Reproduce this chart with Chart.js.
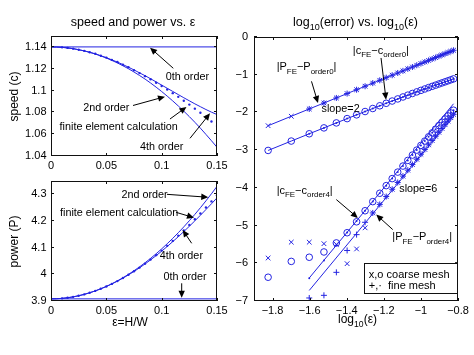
<!DOCTYPE html>
<html><head><meta charset="utf-8">
<script src="https://cdn.jsdelivr.net/npm/chart.js@4.4.1/dist/chart.umd.min.js"></script>
<style>
html,body{margin:0;padding:0;background:#fff;}
#wrap{position:relative;width:474px;height:355px;background:#fff;}
#wrap canvas{position:absolute;left:0;top:0;}
</style></head>
<body><div id="wrap">
<canvas id="cA" width="474" height="355"></canvas>
<canvas id="cB" width="474" height="355"></canvas>
<canvas id="cC" width="474" height="355"></canvas>
</div>
<script>
// ---------- data: speed / power vs epsilon ----------
const epsGrid = [0,0.005,0.01,0.015,0.02,0.025,0.03,0.035,0.04,0.045,0.05,0.055,0.06,0.065,0.07,0.075,0.08,0.085,0.09,0.095,0.1,0.105,0.11,0.115,0.12,0.125,0.13,0.135,0.14,0.145,0.15];
const order0Eps = [0, 0.15];
const feEps = [0.01,0.015,0.02,0.025,0.03,0.035,0.04,0.045,0.05,0.055,0.06,0.065,0.07,0.075,0.08,0.085,0.09,0.095,0.1,0.105,0.11,0.115,0.12,0.125,0.13,0.135,0.14,0.145,0.15];

const speedOrder0 = [1.14, 1.14];
const speedOrder2 = [1.14,1.1399,1.1396,1.1391,1.1384,1.1374,1.1363,1.1350,1.1335,1.1317,1.1298,1.1276,1.1253,1.1227,1.1200,1.1170,1.1138,1.1105,1.1069,1.1031,1.0991,1.0949,1.0905,1.0859,1.0811,1.0761,1.0709,1.0655,1.0598,1.0540,1.0480];
const speedOrder4 = [1.14,1.1399,1.1396,1.1391,1.1384,1.1374,1.1364,1.1351,1.1337,1.1319,1.1302,1.1281,1.1261,1.1238,1.1214,1.1189,1.1162,1.1136,1.1108,1.1079,1.1050,1.1021,1.0992,1.0963,1.0934,1.0906,1.0878,1.0852,1.0826,1.0802,1.0780];
const speedFE = [1.1396,1.1391,1.1384,1.1374,1.1364,1.1351,1.1337,1.1319,1.1302,1.1281,1.1261,1.1237,1.1213,1.1187,1.1160,1.1132,1.1103,1.1072,1.1041,1.1009,1.0976,1.0942,1.0906,1.0871,1.0834,1.0796,1.0757,1.0716,1.0675];

const powerOrder0 = [3.908, 3.908];
const powerOrder2 = [3.908,3.9085,3.9099,3.9122,3.9155,3.9197,3.9249,3.9310,3.9380,3.9460,3.9549,3.9647,3.9755,3.9872,3.9999,4.0135,4.0280,4.0435,4.0599,4.0772,4.0955,4.1147,4.1349,4.1560,4.1780,4.2010,4.2249,4.2497,4.2755,4.3022,4.3299];
const powerOrder4 = [3.908,3.9085,3.9099,3.9122,3.9155,3.9197,3.9248,3.9309,3.9378,3.9456,3.9544,3.9639,3.9744,3.9857,3.9979,4.0108,4.0245,4.0391,4.0543,4.0703,4.0870,4.1044,4.1225,4.1411,4.1604,4.1803,4.2006,4.2215,4.2429,4.2646,4.2869];
const powerFE = [3.9099,3.9122,3.9155,3.9197,3.9248,3.9309,3.9378,3.9457,3.9545,3.9641,3.9747,3.9860,3.9983,4.0114,4.0253,4.0401,4.0556,4.0719,4.0890,4.1068,4.1254,4.1446,4.1645,4.1851,4.2063,4.2281,4.2505,4.2735,4.2970];

// ---------- data: log10(error) vs log10(eps) ----------
const logEpsCoarse = [-1.8239,-1.6990,-1.6021,-1.5229,-1.4559,-1.3979,-1.3468,-1.3010,-1.2596,-1.2218,-1.1871,-1.1549,-1.1249,-1.0969,-1.0706,-1.0458,-1.0223,-1.0000,-0.9788,-0.9586,-0.9393,-0.9208,-0.9031,-0.8861,-0.8697,-0.8539,-0.8386,-0.8239];
const logEpsFine = [-1.6021,-1.5229,-1.4559,-1.3979,-1.3468,-1.3010,-1.2596,-1.2218,-1.1871,-1.1549,-1.1249,-1.0969,-1.0706,-1.0458,-1.0223,-1.0000,-0.9788,-0.9586,-0.9393,-0.9208,-0.9031,-0.8861,-0.8697,-0.8539,-0.8386,-0.8239];

const pErrOrder0Coarse = [-2.352,-2.102,-1.908,-1.750,-1.616,-1.500,-1.398,-1.306,-1.223,-1.148,-1.078,-1.014,-0.954,-0.898,-0.845,-0.796,-0.749,-0.704,-0.662,-0.621,-0.583,-0.546,-0.510,-0.476,-0.443,-0.412,-0.381,-0.352];
const pErrOrder0Fine = [-1.908,-1.750,-1.616,-1.500,-1.398,-1.306,-1.223,-1.148,-1.078,-1.014,-0.954,-0.898,-0.845,-0.796,-0.749,-0.704,-0.662,-0.621,-0.583,-0.546,-0.510,-0.476,-0.443,-0.412,-0.381,-0.352];
const cErrOrder0Coarse = [-3.008,-2.759,-2.566,-2.410,-2.278,-2.164,-2.064,-1.976,-1.896,-1.824,-1.758,-1.698,-1.642,-1.590,-1.542,-1.497,-1.455,-1.415,-1.378,-1.342,-1.309,-1.277,-1.246,-1.217,-1.189,-1.162,-1.135,-1.110];
const cErrOrder0Fine = [-2.566,-2.410,-2.278,-2.164,-2.064,-1.976,-1.896,-1.824,-1.758,-1.698,-1.642,-1.590,-1.542,-1.497,-1.455,-1.415,-1.378,-1.342,-1.309,-1.277,-1.246,-1.217,-1.189,-1.162,-1.135,-1.110];

const cErrOrder4Coarse = [-6.37,-5.95,-5.84,-5.70,-5.46,-5.19,-4.90,-4.607,-4.365,-4.143,-3.941,-3.755,-3.582,-3.422,-3.272,-3.131,-2.999,-2.875,-2.759,-2.647,-2.542,-2.443,-2.349,-2.259,-2.174,-2.093,-2.015,-1.941];
const cErrOrder4Fine = [-6.396,-5.924,-5.525,-5.181,-4.878,-4.607,-4.365,-4.143,-3.941,-3.755,-3.582,-3.422,-3.272,-3.131,-2.999,-2.875,-2.759,-2.647,-2.542,-2.443,-2.349,-2.259,-2.174,-2.093,-2.015,-1.941];
const pErrOrder4Coarse = [-5.86,-5.44,-5.44,-5.48,-5.50,-6.01,-5.62,-5.06,-4.665,-4.438,-4.230,-4.037,-3.857,-3.689,-3.531,-3.382,-3.241,-3.107,-2.981,-2.859,-2.743,-2.632,-2.526,-2.424,-2.326,-2.231,-2.139,-2.051];
const pErrOrder4Fine = [-6.92,-6.85,-6.24,-5.66,-5.24,-4.913,-4.665,-4.438,-4.230,-4.037,-3.857,-3.689,-3.531,-3.382,-3.241,-3.107,-2.981,-2.859,-2.743,-2.632,-2.526,-2.424,-2.326,-2.231,-2.139,-2.051];

const slope6Eps = [-1.6021, -0.8239];
const slope6Upper = [-6.39, -1.77];
const slope6Lower = [-6.72, -2.10];

// ---------- ticks ----------
const epsTicks = [0, 0.05, 0.1, 0.15];
const epsTickLabels = ['0', '0.05', '0.1', '0.15'];
const speedTicks = [1.04, 1.06, 1.08, 1.1, 1.12, 1.14];
const speedTickLabels = ['1.04', '1.06', '1.08', '1.1', '1.12', '1.14'];
const powerTicks = [3.9, 4, 4.1, 4.2, 4.3];
const powerTickLabels = ['3.9', '4', '4.1', '4.2', '4.3'];
const logEpsTicks = [-1.8, -1.6, -1.4, -1.2, -1, -0.8];
const logEpsTickLabels = ['\u22121.8', '\u22121.6', '\u22121.4', '\u22121.2', '\u22121', '\u22120.8'];
const logErrTicks = [-7, -6, -5, -4, -3, -2, -1, 0];
const logErrTickLabels = ['\u22127', '\u22126', '\u22125', '\u22124', '\u22123', '\u22122', '\u22121', '0'];

// ---------- styling / helpers ----------
const BLUE = 'rgb(35,35,225)';
const FONT = '"Liberation Sans", Arial, Helvetica, sans-serif';
Chart.defaults.font.family = FONT;
Chart.defaults.color = '#000';

function pts(xs, ys) { return xs.map((x, i) => ({x: x, y: ys[i]})); }
function lineDs(xs, ys) {
  return {data: pts(xs, ys), showLine: true, borderColor: BLUE, backgroundColor: BLUE,
          borderWidth: 1, pointRadius: 0, fill: false};
}
function markDs(xs, ys, style, r, filled) {
  return {data: pts(xs, ys), showLine: false, pointStyle: style, pointRadius: r,
          borderColor: BLUE, backgroundColor: filled ? BLUE : 'rgba(0,0,0,0)',
          pointBorderWidth: filled ? 0 : 1, borderWidth: filled ? 0 : 1};
}
function axis(min, max, ticks, labels, fixed, pad, horizontal) {
  return {
    type: 'linear', min: min, max: max,
    grid: {display: false, drawTicks: false},
    border: {display: false},
    ticks: {autoSkip: false, maxRotation: 0, minRotation: 0, padding: pad, color: '#000',
            font: {size: 11, family: FONT}, callback: (v, i) => labels[i]},
    afterBuildTicks: s => { s.ticks = ticks.map(v => ({value: v})); },
    afterFit: s => { if (horizontal) s.height = fixed; else s.width = fixed; }
  };
}

function fontStr(size) { return size + 'px ' + FONT; }
function drawRich(ctx, segs, x, y, size, align) {
  const sub = size * 0.72;
  const widths = segs.map(s => { ctx.font = fontStr(s[1] ? sub : size); return ctx.measureText(s[0]).width; });
  const total = widths.reduce((a, b) => a + b, 0);
  let cx = align === 'center' ? x - total / 2 : (align === 'right' ? x - total : x);
  ctx.textAlign = 'left'; ctx.textBaseline = 'alphabetic';
  const base = y + size * 0.36;
  segs.forEach((s, i) => {
    ctx.font = fontStr(s[1] ? sub : size);
    ctx.fillText(s[0], cx, base + (s[1] ? size * 0.32 : 0));
    cx += widths[i];
  });
}
function drawArrow(ctx, x1, y1, x2, y2) {
  const a = Math.atan2(y2 - y1, x2 - x1), L = 7, W = 3.2;
  const c = Math.cos(a), s = Math.sin(a);
  ctx.beginPath(); ctx.moveTo(x1, y1); ctx.lineTo(x2 - c * L * 0.7, y2 - s * L * 0.7); ctx.stroke();
  ctx.beginPath(); ctx.moveTo(x2, y2);
  ctx.lineTo(x2 - L * c + W * s, y2 - L * s - W * c);
  ctx.lineTo(x2 - L * c - W * s, y2 - L * s + W * c);
  ctx.closePath(); ctx.fill();
}

// ---------- decorations (text, arrows, box) ----------
const decorations = {
  cA: {
    texts: [
      {seg: [['speed and power vs. \u03b5']], px: [133, 21.7], size: 12.5, align: 'center'},
      {seg: [['speed (c)']], px: [13.3, 96.5], size: 12, rot: true},
      {seg: [['0th order']], at: [0.1233, 1.1133], size: 10.8, align: 'center'},
      {seg: [['2nd order']], at: [0.0500, 1.0846], size: 10.8, align: 'center'},
      {seg: [['finite element calculation']], at: [0.0612, 1.0675], size: 10.8, align: 'center'},
      {seg: [['4th order']], at: [0.1000, 1.0492], size: 10.8, align: 'center'}
    ],
    arrows: [
      {from: [0.1105, 1.1204], to: [0.0895, 1.1393]},
      {from: [0.0741, 1.0863], to: [0.1030, 1.0944]},
      {from: [0.1075, 1.0739], to: [0.1224, 1.0849]},
      {from: [0.1256, 1.0562], to: [0.1437, 1.0791]}
    ]
  },
  cB: {
    texts: [
      {seg: [['power (P)']], px: [14, 241.5], size: 12, rot: true},
      {seg: [['\u03b5=H/W']], px: [130, 321.7], size: 12, align: 'center'},
      {seg: [['2nd order']], at: [0.0845, 4.300], size: 10.8, align: 'center'},
      {seg: [['finite element calculation']], at: [0.0616, 4.2326], size: 10.8, align: 'center'},
      {seg: [['4th order']], at: [0.1178, 4.0725], size: 10.8, align: 'center'},
      {seg: [['0th order']], at: [0.1211, 3.994], size: 10.8, align: 'center'}
    ],
    arrows: [
      {from: [0.1048, 4.300], to: [0.1421, 4.289]},
      {from: [0.1130, 4.2326], to: [0.1292, 4.2124]},
      {from: [0.1271, 4.1164], to: [0.1190, 4.1663]},
      {from: [0.1181, 3.9664], to: [0.1181, 3.9124]}
    ]
  },
  cC: {
    texts: [
      {seg: [['log'], ['10', 1], ['(error) vs. log'], ['10', 1], ['(\u03b5)']], px: [355.5, 21.7], size: 12.5, align: 'center'},
      {seg: [['log'], ['10', 1], ['(\u03b5)']], px: [357.5, 318.5], size: 12, align: 'center'},
      {seg: [['|P'], ['FE', 1], ['\u2212P'], ['order0', 1], ['|']], at: [-1.778, -0.779], size: 11, align: 'left'},
      {seg: [['|c'], ['FE', 1], ['\u2212c'], ['order0', 1], ['|']], at: [-1.367, -0.336], size: 11, align: 'left'},
      {seg: [['slope=2']], at: [-1.433, -1.881], size: 10.8, align: 'center'},
      {seg: [['|c'], ['FE', 1], ['\u2212c'], ['order4', 1], ['|']], at: [-1.778, -4.046], size: 11, align: 'left'},
      {seg: [['slope=6']], at: [-1.014, -4.001], size: 10.8, align: 'center'},
      {seg: [['|P'], ['FE', 1], ['\u2212P'], ['order4', 1], ['|']], at: [-1.154, -5.283], size: 11, align: 'left'}
    ],
    arrows: [
      {from: [-1.590, -1.176], to: [-1.555, -1.749]},
      {from: [-1.215, -0.556], to: [-1.188, -1.661]},
      {from: [-1.456, -4.311], to: [-1.340, -4.796]},
      {from: [-1.152, -5.106], to: [-1.241, -4.709]}
    ],
    legend: {
      box: [-1.308, -5.988, -0.807, -6.783],
      lines: [
        {seg: [['x,o coarse mesh']], at: [-1.281, -6.272]},
        {seg: [['+,\u00b7  fine mesh']], at: [-1.281, -6.582]}
      ]
    }
  }
};

const decoPlugin = {
  id: 'deco',
  afterDraw(chart) {
    const d = decorations[chart.canvas.id];
    const ctx = chart.ctx, a = chart.chartArea;
    const xs = chart.scales.x, ys = chart.scales.y;
    const P = v => [xs.getPixelForValue(v[0]), ys.getPixelForValue(v[1])];
    ctx.save();
    ctx.strokeStyle = '#111'; ctx.fillStyle = '#000'; ctx.lineWidth = 1;
    // inward tick marks on all four sides
    ctx.beginPath();
    ys.ticks.forEach(t => {
      const y = Math.round(ys.getPixelForValue(t.value)) - 0.5;
      ctx.moveTo(a.left, y); ctx.lineTo(a.left + 3, y);
      ctx.moveTo(a.right, y); ctx.lineTo(a.right - 3, y);
    });
    xs.ticks.forEach(t => {
      const x = Math.round(xs.getPixelForValue(t.value)) + 0.5;
      ctx.moveTo(x, a.bottom); ctx.lineTo(x, a.bottom - 3);
      ctx.moveTo(x, a.top); ctx.lineTo(x, a.top + 3);
    });
    ctx.stroke();
    // axes box
    ctx.strokeRect(Math.round(a.left) + 0.5, Math.round(a.top) + 0.5,
                   Math.round(a.right - a.left) - 1, Math.round(a.bottom - a.top) - 1);
    // legend box
    if (d.legend) {
      const p1 = P([d.legend.box[0], d.legend.box[1]]), p2 = P([d.legend.box[2], d.legend.box[3]]);
      ctx.fillStyle = '#fff';
      ctx.fillRect(p1[0], p1[1], p2[0] - p1[0], p2[1] - p1[1]);
      ctx.strokeRect(Math.round(p1[0]) + 0.5, Math.round(p1[1]) + 0.5, Math.round(p2[0] - p1[0]), Math.round(p2[1] - p1[1]));
      ctx.fillStyle = '#000';
      d.legend.lines.forEach(l => { const p = P(l.at); drawRich(ctx, l.seg, p[0], p[1], 11, 'left'); });
    }
    // arrows
    ctx.strokeStyle = '#000'; ctx.fillStyle = '#000';
    d.arrows.forEach(ar => { const p = P(ar.from), q = P(ar.to); drawArrow(ctx, p[0], p[1], q[0], q[1]); });
    // texts
    d.texts.forEach(t => {
      const p = t.px ? t.px : P(t.at);
      if (t.rot) {
        ctx.save(); ctx.translate(p[0], p[1]); ctx.rotate(-Math.PI / 2);
        drawRich(ctx, t.seg, 0, 0, t.size, 'center'); ctx.restore();
      } else {
        drawRich(ctx, t.seg, p[0], p[1], t.size, t.align || 'center');
      }
    });
    ctx.restore();
  }
};

function makeChart(id, datasets, xScale, yScale, padding) {
  return new Chart(document.getElementById(id), {
    type: 'scatter',
    data: {datasets: datasets},
    options: {
      responsive: false, animation: false, devicePixelRatio: 1, events: [],
      layout: {padding: padding},
      plugins: {legend: {display: false}, tooltip: {enabled: false}, title: {display: false}},
      scales: {x: xScale, y: yScale}
    },
    plugins: [decoPlugin]
  });
}

// speed chart: plot area 51..217 x 36..156
makeChart('cA', [
  lineDs(order0Eps, speedOrder0),
  lineDs(epsGrid, speedOrder2),
  lineDs(epsGrid, speedOrder4),
  markDs(feEps, speedFE, 'circle', 1.2, true)
], axis(0, 0.15, epsTicks, epsTickLabels, 30, 3.5, true),
   axis(1.04, 1.15, speedTicks, speedTickLabels, 51, 4.5, false),
   {left: 0, top: 36, right: 257, bottom: 169});

// power chart: plot area 51..217 x 181..301
makeChart('cB', [
  lineDs(order0Eps, powerOrder0),
  lineDs(epsGrid, powerOrder2),
  lineDs(epsGrid, powerOrder4),
  markDs(feEps, powerFE, 'circle', 1.2, true)
], axis(0, 0.15, epsTicks, epsTickLabels, 30, 3.5, true),
   axis(3.9, 4.35, powerTicks, powerTickLabels, 51, 4.5, false),
   {left: 0, top: 181, right: 257, bottom: 24});

// error chart: plot area 254..458 x 37..301
makeChart('cC', [
  lineDs(logEpsCoarse, pErrOrder0Coarse),
  markDs(logEpsCoarse, pErrOrder0Coarse, 'crossRot', 3.3, false),
  markDs(logEpsFine, pErrOrder0Fine, 'cross', 3, false),
  lineDs(logEpsCoarse, cErrOrder0Coarse),
  markDs(logEpsCoarse, cErrOrder0Coarse, 'circle', 3.3, false),
  markDs(logEpsFine, cErrOrder0Fine, 'circle', 1, true),
  lineDs(slope6Eps, slope6Upper),
  lineDs(slope6Eps, slope6Lower),
  markDs(logEpsCoarse, cErrOrder4Coarse, 'circle', 3.3, false),
  markDs(logEpsFine, cErrOrder4Fine, 'circle', 1, true),
  markDs(logEpsCoarse, pErrOrder4Coarse, 'crossRot', 3.3, false),
  markDs(logEpsFine, pErrOrder4Fine, 'cross', 3, false)
], axis(-1.9, -0.8, logEpsTicks, logEpsTickLabels, 30, 3.5, true),
   axis(-7, 0, logErrTicks, logErrTickLabels, 254, 6, false),
   {left: 0, top: 37, right: 16, bottom: 24});
</script>
</body></html>
